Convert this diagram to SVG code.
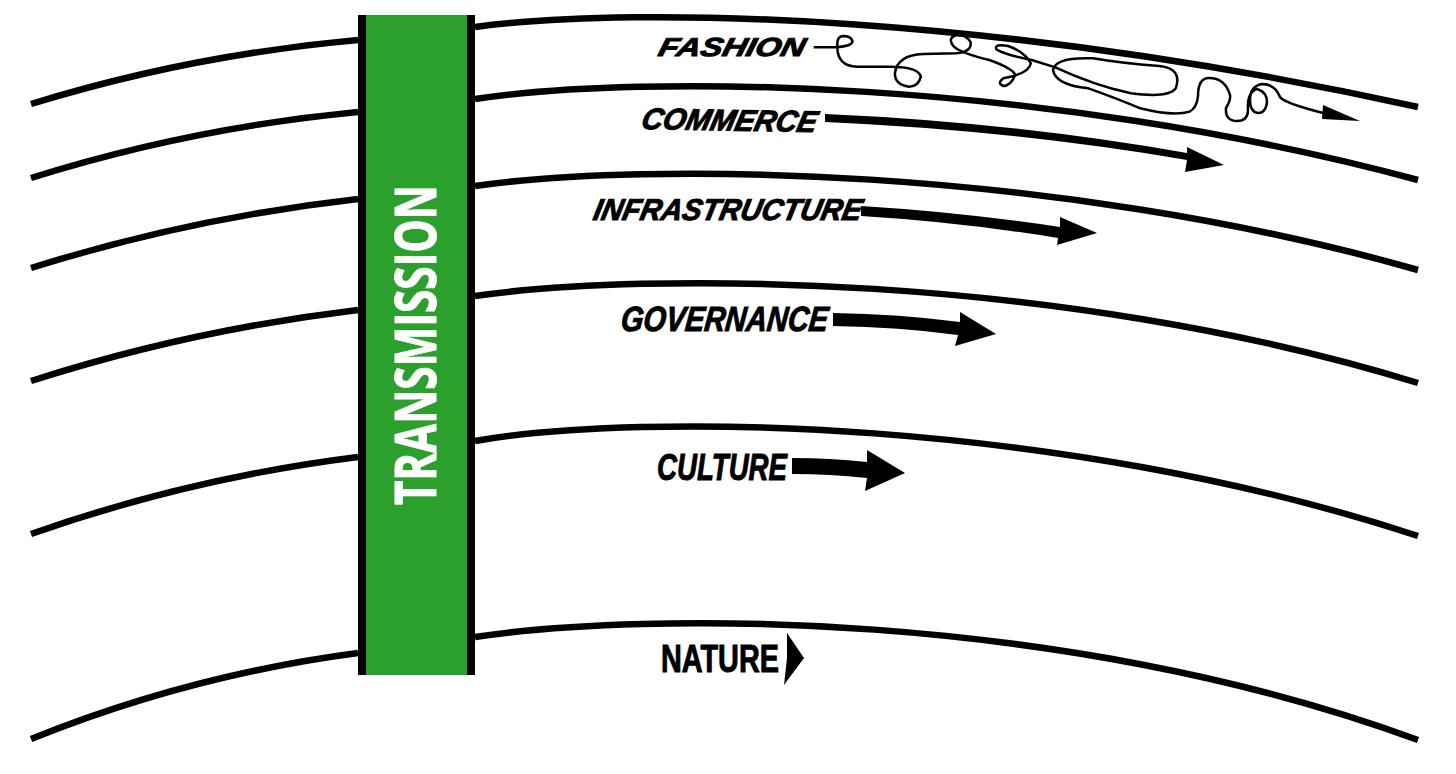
<svg xmlns="http://www.w3.org/2000/svg" width="1456" height="774" viewBox="0 0 1456 774">
<style>
.c{fill:none;stroke:#000;stroke-width:6.5;stroke-linecap:butt}
.l{font-family:"Liberation Sans",Arial,sans-serif;font-weight:bold;font-style:italic;fill:#000;stroke:#000;stroke-width:1}
.a{fill:#000}
.s{fill:none;stroke:#000;stroke-width:2.5}
.t{font-family:"Open Sans","Liberation Sans",sans-serif;font-weight:bold;fill:#fff;stroke:#fff;stroke-width:1}
</style>
<rect width="1456" height="774" fill="#fff"/>
<g id="connectors">
<path class="c" d="M31 104Q190 55 358 40"/>
<path class="c" d="M475 27C640 5 1000 15 1418 107"/>
<path class="c" d="M31 178Q190 128 358 112"/>
<path class="c" d="M475 99C640 74 1040 78 1418 180"/>
<path class="c" d="M31 268Q190 218 358 199"/>
<path class="c" d="M475 186C640 162 1050 165 1418 270"/>
<path class="c" d="M31 381Q190 330 358 310"/>
<path class="c" d="M475 296C640 272 1060 272 1418 383"/>
<path class="c" d="M31 534Q190 478 358 457"/>
<path class="c" d="M475 441C640 412 1060 418 1418 536"/>
<path class="c" d="M31 739Q190 675 358 653"/>
<path class="c" d="M475 637C640 612 1060 608 1418 740"/>
</g>
<g id="transmission">
<rect x="358" y="15" width="117" height="660" fill="#000"/>
<rect x="366" y="15" width="101" height="660" fill="#2ba02d"/>
<text class="t" transform="translate(436 505) rotate(-90)" font-size="57" textLength="320" lengthAdjust="spacingAndGlyphs">TRANSMISSION</text>
</g>
<g id="fashion">
<text class="l" transform="translate(657 56) skewX(-14)" font-size="26" textLength="146" lengthAdjust="spacingAndGlyphs">FASHION</text>
<g transform="translate(640 10) scale(.472 .3333)">
<path vector-effect="non-scaling-stroke" class="s" d="M368 112L415 112Q452 108 450 92Q446 78 430 78Q416 80 418 110Q418 168 460 170L530 170Q590 170 595 200Q590 230 570 230Q540 225 540 190Q545 135 600 132L670 130Q705 125 700 95Q690 72 670 75Q650 85 665 110Q680 130 740 150Q790 175 795 195Q785 228 770 228Q755 220 770 205Q825 190 828 160Q815 125 780 108Q750 100 755 118Q775 135 830 150L880 172Q960 225 1040 250Q1120 265 1135 235Q1150 175 1100 168Q1020 160 960 145Q880 140 875 180Q880 225 950 235Q1010 265 1060 295Q1130 320 1165 305"/>
</g>
<path class="s" d="M1189 112Q1197 108 1198 96Q1198 78 1209 78Q1225 78 1230 95Q1231 100 1226 108Q1225 121 1237 121Q1248 121 1248 110Q1247 92 1257 89Q1267 92 1267 102Q1266 113 1258 113Q1250 112 1250 100Q1250 86 1262 84Q1275 84 1280 97Q1284 103 1323 113"/>
<path class="a" d="M1323 105L1360 121L1322 119Z"/>
</g>
<g id="commerce">
<text class="l" transform="translate(640 129) rotate(1) skewX(-12)" font-size="30" textLength="175" lengthAdjust="spacingAndGlyphs">COMMERCE</text>
<path class="a" d="M825 114Q1010 122 1187 153L1187 147L1224 165L1185 172L1187 160Q1010 130 825 122Z"/>
</g>
<g id="infrastructure">
<text class="l" transform="translate(592 220) skewX(-12)" font-size="30" textLength="268" lengthAdjust="spacingAndGlyphs">INFRASTRUCTURE</text>
<path class="a" d="M861 206Q960 212 1060 227L1060 217L1097 233L1057 245L1058 238Q960 222 861 216Z"/>
</g>
<g id="governance">
<text class="l" transform="translate(620 331) skewX(-6)" font-size="35" textLength="207" lengthAdjust="spacingAndGlyphs">GOVERNANCE</text>
<path class="a" d="M833 313Q900 314 960 322L960 312L996 334L955 346L958 335Q900 327 833 326Z"/>
</g>
<g id="culture">
<text class="l" x="657" y="480" font-size="37" textLength="130" lengthAdjust="spacingAndGlyphs">CULTURE</text>
<path class="a" d="M792 458Q830 458 867 462L867 450L905 473L865 491L867 478Q830 474 792 474Z"/>
</g>
<g id="nature">
<text x="661" y="672" font-size="39" textLength="118" lengthAdjust="spacingAndGlyphs" font-family="Liberation Sans,Arial,sans-serif" font-weight="bold" fill="#000" stroke="#000" stroke-width="1">NATURE</text>
<path class="a" d="M787 633L804 658L784 685L787 658Z"/>
</g>
</svg>
